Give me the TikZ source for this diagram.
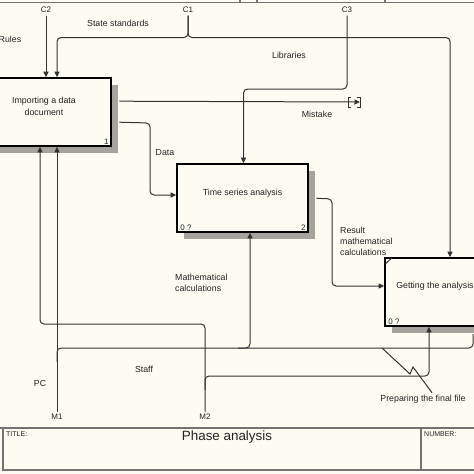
\documentclass[tikz,border=0pt]{standalone}
\usepackage{fontspec}
\setmainfont{Liberation Sans}
\usetikzlibrary{arrows.meta,shadows,calc}
\definecolor{bgc}{RGB}{254,251,243}
\definecolor{ln}{RGB}{50,50,50}
\definecolor{tx}{RGB}{35,35,35}
\definecolor{framec}{RGB}{115,115,115}
\definecolor{shadowc}{RGB}{165,163,158}
\begin{document}
\begin{tikzpicture}[x=1pt,y=-1pt,
  box/.style={draw=black, line width=1.6pt, fill=bgc, minimum height=68pt, inner sep=0pt,
    drop shadow={shadow xshift=7pt, shadow yshift=-7pt, opacity=1, fill=shadowc, draw=none}},
  boxtext/.style={font=\fontsize{8.8}{12}\selectfont, text=tx, align=center, inner sep=0pt},
  lbl/.style={font=\fontsize{8.8}{11}\selectfont, text=tx, inner sep=0pt},
  num/.style={font=\fontsize{8}{9}\selectfont, text=tx, inner sep=0pt},
  icom/.style={font=\fontsize{8}{9}\selectfont, text=tx, inner sep=2.5pt},
  conn/.style={draw=ln, line width=1pt, -{Triangle[length=5.5pt,width=5pt]}},
  plain/.style={draw=ln, line width=1pt},
  framel/.style={draw=framec, line width=1.3pt},
  rc/.style={rounded corners=4pt}
]
\useasboundingbox (0,0) rectangle (474,474);
\fill[bgc] (0,0) rectangle (474,474);
\clip (0,0) rectangle (474,474);

% top strip
\draw[framel] (0,2.5) -- (474,2.5);
\draw[framel] (240,0) -- (240,2.5) (257,0) -- (257,2.5) (385,0) -- (385,2.5);

% boxes
\node[box, minimum width=134pt] (b1) at (44,112) {};
\node[box, minimum width=131pt] (b2) at (242.5,198) {};
\node[box, minimum width=100pt] (b3) at (435,292) {};
\node[boxtext] (b1t) at ([yshift=6pt]b1.center) {Importing a data\\document};
\node[boxtext] (b2t) at ([yshift=5pt]b2.center) {Time series analysis};
\node[boxtext] (b3t) at ([yshift=6pt]b3.center) {Getting the analysis};
\node[num, anchor=south east] (n1) at ($(b1.south east)+(-3,-2)$) {1};
\node[num, anchor=south west] (n2a) at ($(b2.south west)+(4,-2)$) {0 ?};
\node[num, anchor=south east] (n2b) at ($(b2.south east)+(-3,-2)$) {2};
\node[num, anchor=south west] (n3a) at ($(b3.south west)+(4,-2)$) {0 ?};
\draw[plain] ($(b3.north west)+(0.8,7)$) -- ($(b3.north west)+(7.5,0.8)$);

% ICOM labels
\node[icom] (C2) at (46,10) {C2};
\node[icom] (C1) at (188,10) {C1};
\node[icom] (C3) at (347,10) {C3};
\node[icom] (M1) at (57,417) {M1};
\node[icom] (M2) at (205,417) {M2};

% coordinates
\coordinate (j1) at (188,37.5);
\coordinate (mis) at (360,102);
\coordinate (m1j) at (57,362);
\coordinate (m2j) at (205,390);
\coordinate (mcj) at (238,348);
\coordinate (sq) at (382,348);

% connectors
\draw[conn] (C2) -- (b1.north -| C2);
\draw[conn, rc] (C1) -- (j1) -- (57,37.5) -- (b1.north -| 57,0);
\draw[conn, rc] (C1) -- (j1) -- (450,37.5) -- (b3.north -| 450,0);
\draw[conn, rc] (C3) -- (347,89) -- (243.5,89) -- (b2.north -| 243.5,0);
\draw[conn] ($(b1.north east)+(7.5,24)$) -- (mis);
\draw[plain] (351,97.5) -| (348,107) -- (351,107);
\draw[plain] (357,97.5) -| (360.5,107) -- (357,107);
\draw[conn, rc] ($(b1.north east)+(7.5,45)$) -- (150,123) -- (150,195) -- (b2.west |- 0,195);
\draw[conn, rc] ($(b2.north east)+(7.5,35)$) -- (332,199) -- (332,286) -- (b3.west |- 0,286);
\draw[conn] (M1) -- (b1.south -| M1);
\draw[plain, rc] (m1j) -- (57,348) -- (473,348) -- (473,334);
\draw[conn, rc] (mcj) -- (250,348) -- (b2.south -| 250,0);
\draw[conn, rc] (M2) -- (205,324) -- (40,324) -- (b1.south -| 40,0);
\draw[conn, rc] (m2j) -- (205,376) -- (429,376) -- (b3.south -| 429,0);

% labels
\node[lbl, anchor=west] (rules) at (-1.5,39) {Rules};
\node[lbl] (std) at (118,23) {State standards};
\node[lbl] (lib) at (289,55) {Libraries};
\node[lbl] (mist) at (317,114) {Mistake};
\node[lbl] (data) at (165,153) {Data};
\node[lbl, anchor=west, align=left] (math) at (175,283) {Mathematical\\calculations};
\node[lbl, anchor=west, align=left] (res) at (340,241) {Result\\mathematical\\calculations};
\node[lbl] (staff) at (144,369) {Staff};
\node[lbl] (pc) at (40,383) {PC};
\node[lbl] (prep) at (423,399) {Preparing the final file};
\draw[plain] ([xshift=9pt,yshift=2pt]prep.north) -- (413,367) -- (410,374) -- (sq);

% title block
\draw[framel] (0,428) -- (474,428);
\draw[framel] (3,428) -- (3,470) -- (474,470);
\draw[framel] (421,428) -- (421,470);
\node[font=\fontsize{7}{8}\selectfont, text=tx, anchor=north west, inner sep=0pt] (ttl) at (6,431) {TITLE:};
\node[font=\fontsize{13.4}{15}\selectfont, text=tx, inner sep=0pt] (phase) at (227,437) {Phase analysis};
\node[font=\fontsize{7}{8}\selectfont, text=tx, anchor=north west, inner sep=0pt] (numb) at (424,431) {NUMBER:};
\end{tikzpicture}
\end{document}
